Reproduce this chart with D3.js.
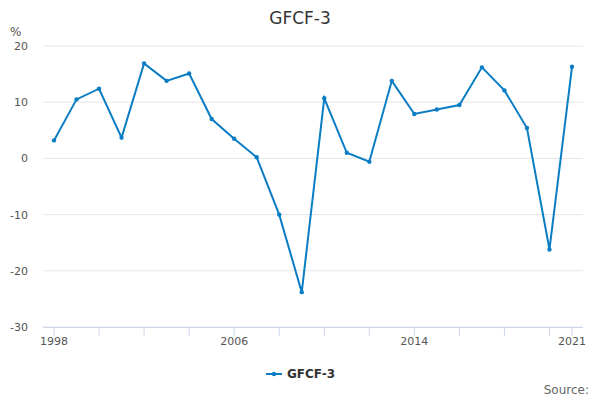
<!DOCTYPE html>
<html><head><meta charset="utf-8">
<script src="https://cdn.jsdelivr.net/npm/d3@7"></script>
<style>body{margin:0;background:#fff;font-family:"DejaVu Sans",sans-serif}</style>
</head><body><svg id="c" width="600" height="400"></svg>
<script>
const years=[1998,1999,2000,2001,2002,2003,2004,2005,2006,2007,2008,2009,2010,2011,2012,2013,2014,2015,2016,2017,2018,2019,2020,2021];
const values=[3.2,10.5,12.4,3.7,16.9,13.8,15.1,7.0,3.5,0.2,-10.0,-23.8,10.7,1.0,-0.6,13.8,7.9,8.7,9.5,16.2,12.1,5.4,-16.2,16.3];
const yTicks=[-30,-20,-10,0,10,20];
const xLabels=[1998,2006,2014,2021];
const tickYears=[2000,2002,2004,2006,2008,2010,2012,2014,2016,2018,2020];
const color="#0b7dc4";
const svg=d3.select("#c");
const x=d3.scaleLinear().domain([1998,2021]).range([54,572]);
const y=d3.scaleLinear().domain([-30,20]).range([327,46]);
svg.append("text").attr("x",300).attr("y",24).attr("text-anchor","middle").attr("font-size",17).attr("fill","#333").text("GFCF-3");
svg.append("text").attr("x",10).attr("y",36).attr("font-size",12).attr("fill","#555").text("%");
svg.selectAll(".g").data(yTicks).enter().append("line").attr("x1",43).attr("x2",583).attr("y1",d=>y(d)).attr("y2",d=>y(d)).attr("stroke","#e6e6e6");
svg.selectAll(".yl").data(yTicks).enter().append("text").attr("x",28).attr("y",d=>y(d)+4).attr("text-anchor","end").attr("font-size",11).attr("fill","#555").text(d=>d);
svg.append("line").attr("x1",43).attr("x2",583).attr("y1",327.5).attr("y2",327.5).attr("stroke","#ccd6eb");
svg.selectAll(".xt").data(tickYears.concat([1998,2021])).enter().append("line").attr("x1",d=>x(d)).attr("x2",d=>x(d)).attr("y1",327).attr("y2",336).attr("stroke","#ccd6eb");
svg.selectAll(".xl").data(xLabels).enter().append("text").attr("x",d=>x(d)).attr("y",345).attr("text-anchor","middle").attr("font-size",11).attr("fill","#555").text(d=>d);
const line=d3.line().x((d,i)=>x(years[i])).y(d=>y(d));
svg.append("path").datum(values).attr("d",line).attr("fill","none").attr("stroke",color).attr("stroke-width",2);
svg.selectAll(".p").data(values).enter().append("circle").attr("cx",(d,i)=>x(years[i])).attr("cy",d=>y(d)).attr("r",2.2).attr("fill",color);
svg.append("line").attr("x1",266).attr("x2",282).attr("y1",374).attr("y2",374).attr("stroke",color).attr("stroke-width",2);
svg.append("circle").attr("cx",274).attr("cy",374).attr("r",2.2).attr("fill",color);
svg.append("text").attr("x",287).attr("y",378).attr("font-size",12).attr("font-weight","bold").attr("fill","#333").text("GFCF-3");
svg.append("text").attr("x",589).attr("y",394).attr("text-anchor","end").attr("font-size",12).attr("fill","#666").text("Source:");
</script></body></html>
